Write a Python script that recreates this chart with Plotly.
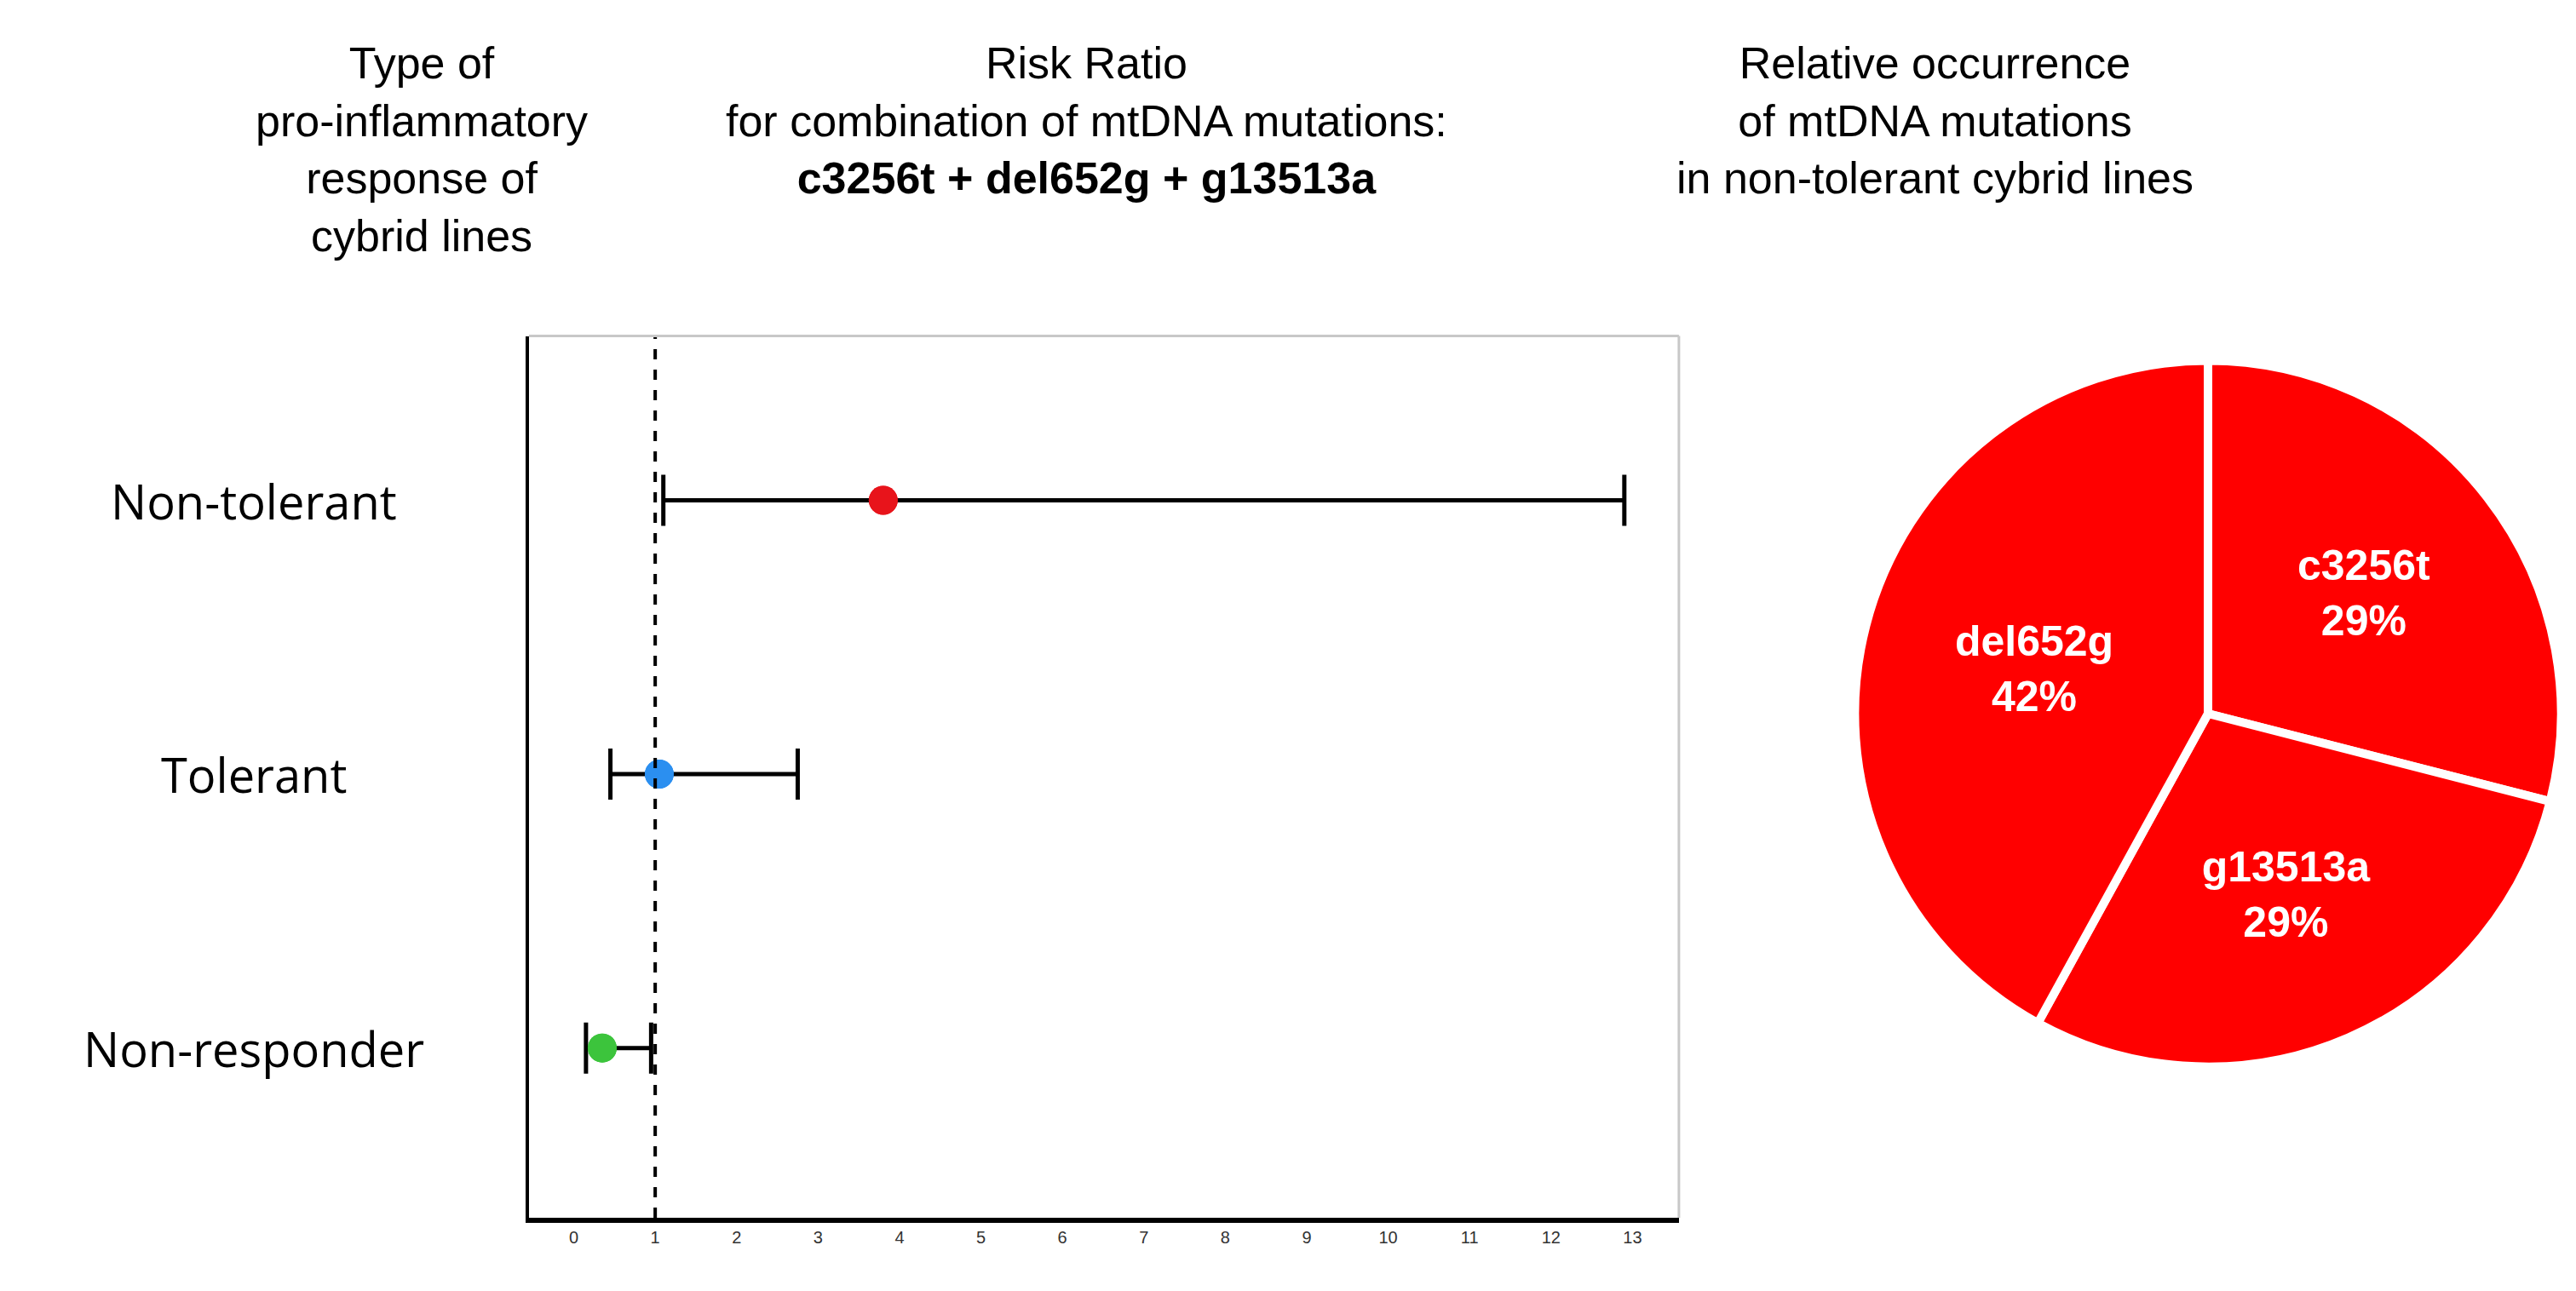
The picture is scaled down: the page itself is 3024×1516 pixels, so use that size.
import plotly.graph_objects as go

groups = ["Non-tolerant", "Tolerant", "Non-responder"]
group_pos = [2, 1, 0]
rr = [3.8, 1.05, 0.35]
ci_low = [1.1, 0.45, 0.15]
ci_high = [12.9, 2.75, 0.95]
colors = ["#e8141b", "#2b8ff0", "#3cc43c"]
xticks = list(range(0, 14))

pie_labels = ["c3256t", "g13513a", "del652g"]
pie_values = [29, 29, 42]

fig = go.Figure()
XD = [0.2027, 0.6491]
YD = [0.062, 0.745]

fig.add_trace(go.Scatter(
    x=rr, y=group_pos, mode="markers",
    marker=dict(size=34, color=colors),
    error_x=dict(type="data", symmetric=False,
                 array=[h - r for h, r in zip(ci_high, rr)],
                 arrayminus=[r - l for r, l in zip(rr, ci_low)],
                 color="black", thickness=5, width=30),
    showlegend=False, hoverinfo="skip"))
fig.add_trace(go.Scatter(x=rr, y=group_pos, mode="markers",
                         marker=dict(size=34, color=colors), showlegend=False, hoverinfo="skip"))

fig.add_shape(type="line", x0=1, x1=1, y0=0, y1=1, xref="x", yref="y domain",
              line=dict(color="black", width=4, dash="dash"))

fig.update_xaxes(domain=XD, range=[-0.55, 13.57], tickvals=xticks,
                 showline=True, linecolor="black", linewidth=6, mirror=False,
                 showgrid=False, zeroline=False, ticks="",
                 tickfont=dict(family="Liberation Sans", size=20, color="#333"))
fig.update_yaxes(domain=YD, range=[-0.62, 2.6], showline=True, linecolor="black",
                 linewidth=4, showgrid=False, zeroline=False, showticklabels=False, ticks="")
fig.add_shape(type="line", xref="paper", yref="paper", x0=XD[0], x1=XD[1], y0=YD[1], y1=YD[1],
              line=dict(color="#c8c8c8", width=3))
fig.add_shape(type="line", xref="paper", yref="paper", x0=XD[1], x1=XD[1], y0=YD[0], y1=YD[1],
              line=dict(color="#c8c8c8", width=3))

fig.add_trace(go.Pie(
    labels=pie_labels, values=pie_values, sort=False, direction="clockwise", rotation=0,
    domain=dict(x=[0.717, 0.992], y=[0.179, 0.726]),
    marker=dict(colors=["#ff0000"] * 3, line=dict(color="white", width=10)),
    texttemplate="<b>%{label}<br>%{value}%</b>", textposition="inside",
    insidetextorientation="horizontal",
    textfont=dict(family="Liberation Sans", size=50, color="white"),
    showlegend=False, hoverinfo="skip"))

title_font = dict(family="Liberation Sans", size=52, color="black")
lab_font = dict(family="Open Sans", size=56, color="black")
fig.add_annotation(x=290 / 3024, y=1 - 35 / 1516, xref="paper", yref="paper", yanchor="top",
                   text="Type of<br>pro-inflammatory<br>response of<br>cybrid lines",
                   showarrow=False, font=title_font, align="center")
fig.add_annotation(x=1267 / 3024, y=1 - 35 / 1516, xref="paper", yref="paper", yanchor="top",
                   text="Risk Ratio<br>for combination of mtDNA mutations:<br><b>c3256t + del652g + g13513a</b>",
                   showarrow=False, font=title_font, align="center")
fig.add_annotation(x=2569 / 3024, y=1 - 35 / 1516, xref="paper", yref="paper", yanchor="top",
                   text="Relative occurrence<br>of mtDNA mutations<br>in non-tolerant cybrid lines",
                   showarrow=False, font=title_font, align="center")
for g, p in zip(groups, group_pos):
    fig.add_annotation(x=290 / 3024, xref="paper", y=p, yref="y", text=g, showarrow=False,
                       font=lab_font, xanchor="center")

fig.update_layout(width=3024, height=1516, margin=dict(l=0, r=0, t=0, b=0),
                  paper_bgcolor="white", plot_bgcolor="white")
fig.write_html("out.html")
